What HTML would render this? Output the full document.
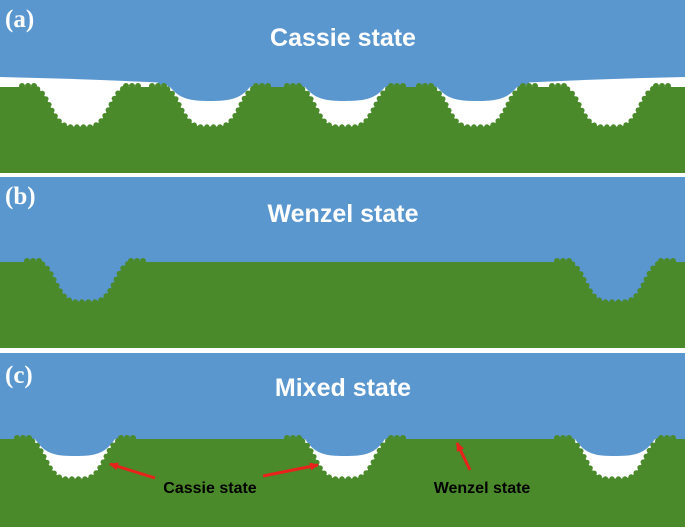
<!DOCTYPE html>
<html><head><meta charset="utf-8"><style>
html,body{margin:0;padding:0;background:#fff;}
svg{display:block;}
.t{font-family:"Liberation Sans","DejaVu Sans",sans-serif;font-weight:bold;fill:#fff;font-size:25px;}
.l{font-family:"Liberation Serif",serif;font-weight:bold;fill:#fff;font-size:25px;}
.k{font-family:"Liberation Sans","DejaVu Sans",sans-serif;font-weight:bold;fill:#000;font-size:16px;}
</style></head><body>
<svg id="s" width="685" height="527" viewBox="0 0 685 527" xmlns="http://www.w3.org/2000/svg">
<defs><marker id="ar" markerWidth="9" markerHeight="8" refX="8" refY="4" orient="auto" markerUnits="userSpaceOnUse"><path d="M0,0 L9,4 L0,8 z" fill="#e8231c"/></marker></defs>
<rect x="0" y="0" width="685" height="173" fill="#5b97cf"/>
<path d="M0,77 Q90,79 168,83 L168,88 L0,88 z" fill="#fff"/>
<path d="M685,77 Q595,79 520,83 L520,88 L685,88 z" fill="#fff"/>
<rect x="0" y="87" width="685" height="86" fill="#4a8a2a"/>
<g id="ga"></g>
<text class="l" x="5" y="27">(a)</text>
<text class="t" x="343" y="46" text-anchor="middle">Cassie state</text>
<rect x="0" y="177" width="685" height="171" fill="#5b97cf"/>
<rect x="0" y="262" width="685" height="86" fill="#4a8a2a"/>
<g id="gb"></g>
<text class="l" x="5" y="204">(b)</text>
<text class="t" x="343" y="222" text-anchor="middle">Wenzel state</text>
<rect x="0" y="353" width="685" height="174" fill="#5b97cf"/>
<rect x="0" y="439" width="685" height="88" fill="#4a8a2a"/>
<g id="gc"></g>
<text class="l" x="5" y="383">(c)</text>
<text class="t" x="343" y="396" text-anchor="middle">Mixed state</text>
<line x1="155" y1="478" x2="110" y2="464" stroke="#e8231c" stroke-width="3" marker-end="url(#ar)"/>
<line x1="263" y1="476" x2="318" y2="465" stroke="#e8231c" stroke-width="3" marker-end="url(#ar)"/>
<line x1="470" y1="470" x2="457" y2="443" stroke="#e8231c" stroke-width="3" marker-end="url(#ar)"/>
<text class="k" x="210" y="493" text-anchor="middle">Cassie state</text>
<text class="k" x="482" y="493" text-anchor="middle">Wenzel state</text>
</svg>
<script>
var NS="http://www.w3.org/2000/svg";
function el(g,n,a){var e=document.createElementNS(NS,n);for(var k in a)e.setAttribute(k,a[k]);g.appendChild(e);return e;}
function pd(cx,T,d,w){w=w||48;return "M"+(cx-w)+","+T+" C"+(cx-w+18)+","+(T+2)+" "+(cx-30)+","+(T+d)+" "+(cx-8)+","+(T+d)+" L"+(cx+8)+","+(T+d)+" C"+(cx+30)+","+(T+d)+" "+(cx+w-18)+","+(T+2)+" "+(cx+w)+","+T;}
function pit(id,cx,T,fill,blueDepth){
 var g=document.getElementById(id);var D=40;
 el(g,"path",{d:pd(cx,T,D)+" z",fill:fill});
 if(blueDepth){
  el(g,"path",{d:"M"+(cx-52)+","+(T-12)+" L"+(cx-52)+","+(T-2)+" Q"+(cx-44)+","+(T-3)+" "+(cx-40)+","+T+" C"+(cx-30)+","+(T+blueDepth-2)+" "+(cx-20)+","+(T+blueDepth)+" "+cx+","+(T+blueDepth)+" C"+(cx+20)+","+(T+blueDepth)+" "+(cx+30)+","+(T+blueDepth-2)+" "+(cx+40)+","+T+" Q"+(cx+44)+","+(T-3)+" "+(cx+52)+","+(T-2)+" L"+(cx+52)+","+(T-12)+" z",fill:"#5b97cf"});}
 var p=el(g,"path",{d:pd(cx,T,D),fill:"none",stroke:"#4a8a2a","stroke-width":1});
 var L=p.getTotalLength();
 for(var s=6;s<L-4;s+=6.5){var q=p.getPointAtLength(s);el(g,"circle",{cx:q.x,cy:q.y,r:2.7,fill:"#4a8a2a"});}
 [-58,-52,-46,46,52,58].forEach(function(o){el(g,"circle",{cx:cx+o,cy:T-1,r:3,fill:"#4a8a2a"});});
}
[80,210,345,477,610].forEach(function(c,i){pit("ga",c,87,"#fff",(i>0&&i<4)?14:0);});
[85,615].forEach(function(c){pit("gb",c,262,"#5b97cf",0);});
[75,345,615].forEach(function(c){pit("gc",c,439,"#fff",17);});
</script>
</body></html>
